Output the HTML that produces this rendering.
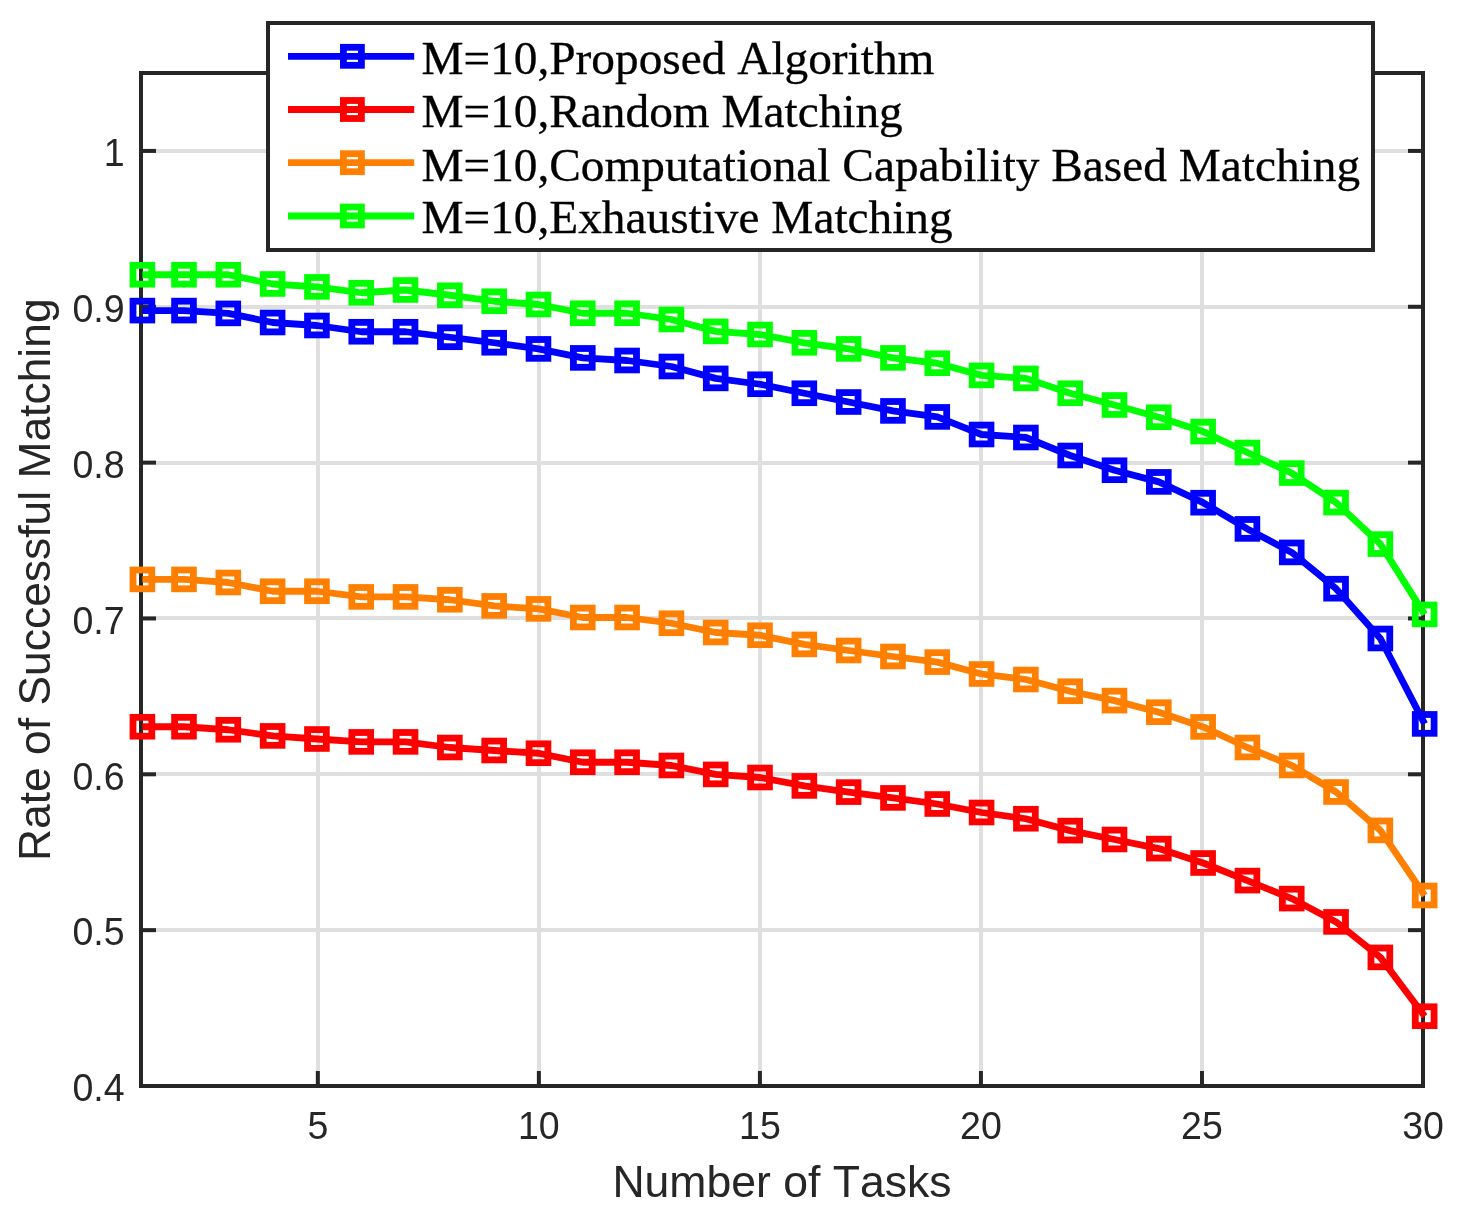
<!DOCTYPE html>
<html lang="en">
<head>
<meta charset="utf-8">
<title>Rate of Successful Matching vs Number of Tasks</title>
<style>
html,body{margin:0;padding:0;background:#fff;}
body{width:1460px;height:1224px;overflow:hidden;}
svg{display:block;}
text{font-kerning:none;}
.t{font-family:"Liberation Sans",Arial,Helvetica,sans-serif;fill:#262626;}
.l{font-family:"Liberation Serif","Times New Roman",Times,serif;fill:#000;stroke:#000;stroke-width:0.3px;}
</style>
</head>
<body>
<svg width="1460" height="1224" viewBox="0 0 1460 1224">
<rect x="0" y="0" width="1460" height="1224" fill="#ffffff"/>
<g stroke="#dfdfdf" stroke-width="4" fill="none" shape-rendering="crispEdges">
<line x1="317.83" y1="73.0" x2="317.83" y2="1086.0"/>
<line x1="538.86" y1="73.0" x2="538.86" y2="1086.0"/>
<line x1="759.90" y1="73.0" x2="759.90" y2="1086.0"/>
<line x1="980.93" y1="73.0" x2="980.93" y2="1086.0"/>
<line x1="1201.97" y1="73.0" x2="1201.97" y2="1086.0"/>
<line x1="141.0" y1="930.15" x2="1423.0" y2="930.15"/>
<line x1="141.0" y1="774.31" x2="1423.0" y2="774.31"/>
<line x1="141.0" y1="618.46" x2="1423.0" y2="618.46"/>
<line x1="141.0" y1="462.62" x2="1423.0" y2="462.62"/>
<line x1="141.0" y1="306.77" x2="1423.0" y2="306.77"/>
<line x1="141.0" y1="150.92" x2="1423.0" y2="150.92"/>
</g>
<g stroke="#262626" stroke-width="4" fill="none">
<rect x="141.0" y="73.0" width="1282.0" height="1013.0"/>
<line x1="317.83" y1="1086.0" x2="317.83" y2="1071.0"/>
<line x1="317.83" y1="73.0" x2="317.83" y2="88.0"/>
<line x1="538.86" y1="1086.0" x2="538.86" y2="1071.0"/>
<line x1="538.86" y1="73.0" x2="538.86" y2="88.0"/>
<line x1="759.90" y1="1086.0" x2="759.90" y2="1071.0"/>
<line x1="759.90" y1="73.0" x2="759.90" y2="88.0"/>
<line x1="980.93" y1="1086.0" x2="980.93" y2="1071.0"/>
<line x1="980.93" y1="73.0" x2="980.93" y2="88.0"/>
<line x1="1201.97" y1="1086.0" x2="1201.97" y2="1071.0"/>
<line x1="1201.97" y1="73.0" x2="1201.97" y2="88.0"/>
<line x1="141.0" y1="930.15" x2="156.0" y2="930.15"/>
<line x1="1423.0" y1="930.15" x2="1408.0" y2="930.15"/>
<line x1="141.0" y1="774.31" x2="156.0" y2="774.31"/>
<line x1="1423.0" y1="774.31" x2="1408.0" y2="774.31"/>
<line x1="141.0" y1="618.46" x2="156.0" y2="618.46"/>
<line x1="1423.0" y1="618.46" x2="1408.0" y2="618.46"/>
<line x1="141.0" y1="462.62" x2="156.0" y2="462.62"/>
<line x1="1423.0" y1="462.62" x2="1408.0" y2="462.62"/>
<line x1="141.0" y1="306.77" x2="156.0" y2="306.77"/>
<line x1="1423.0" y1="306.77" x2="1408.0" y2="306.77"/>
<line x1="141.0" y1="150.92" x2="156.0" y2="150.92"/>
<line x1="1423.0" y1="150.92" x2="1408.0" y2="150.92"/>
</g>
<g class="t" font-size="39.30" text-anchor="middle">
<text transform="translate(317.83 1139.0) scale(0.955 1)">5</text>
<text transform="translate(538.86 1139.0) scale(0.955 1)">10</text>
<text transform="translate(759.90 1139.0) scale(0.955 1)">15</text>
<text transform="translate(980.93 1139.0) scale(0.955 1)">20</text>
<text transform="translate(1201.97 1139.0) scale(0.955 1)">25</text>
<text transform="translate(1423.00 1139.0) scale(0.955 1)">30</text>
</g>
<g class="t" font-size="39.30" text-anchor="end">
<text transform="translate(124.6 1101.20) scale(0.955 1)">0.4</text>
<text transform="translate(124.6 945.35) scale(0.955 1)">0.5</text>
<text transform="translate(124.6 789.51) scale(0.955 1)">0.6</text>
<text transform="translate(124.6 633.66) scale(0.955 1)">0.7</text>
<text transform="translate(124.6 477.82) scale(0.955 1)">0.8</text>
<text transform="translate(124.6 321.97) scale(0.955 1)">0.9</text>
<text transform="translate(124.6 166.12) scale(0.955 1)">1</text>
</g>
<text class="t" font-size="44.55" text-anchor="middle" x="782" y="1196.5">Number of Tasks</text>
<text class="t" font-size="44.40" text-anchor="middle" transform="translate(50 579.7) rotate(-90)">Rate of Successful Matching</text>
<g stroke="#0000ff" fill="none">
<polyline stroke-width="6.8" stroke-linejoin="round" points="142.40,310.60 184.00,310.60 228.31,313.40 272.62,322.50 316.93,325.50 361.24,331.75 405.55,331.75 449.86,337.25 494.17,342.75 538.48,348.90 582.79,357.90 627.10,360.50 671.41,366.50 715.72,378.40 760.03,384.25 804.34,393.25 848.65,402.00 892.96,410.90 937.27,416.90 981.58,434.50 1025.89,437.50 1070.20,455.50 1114.51,470.25 1158.82,481.90 1203.13,502.70 1247.44,528.90 1291.75,552.40 1336.06,588.70 1380.37,638.50 1424.68,723.90"/>
<g stroke-width="6.8">
<rect x="133.00" y="301.20" width="18.8" height="18.8"/>
<rect x="174.60" y="301.20" width="18.8" height="18.8"/>
<rect x="218.91" y="304.00" width="18.8" height="18.8"/>
<rect x="263.22" y="313.10" width="18.8" height="18.8"/>
<rect x="307.53" y="316.10" width="18.8" height="18.8"/>
<rect x="351.84" y="322.35" width="18.8" height="18.8"/>
<rect x="396.15" y="322.35" width="18.8" height="18.8"/>
<rect x="440.46" y="327.85" width="18.8" height="18.8"/>
<rect x="484.77" y="333.35" width="18.8" height="18.8"/>
<rect x="529.08" y="339.50" width="18.8" height="18.8"/>
<rect x="573.39" y="348.50" width="18.8" height="18.8"/>
<rect x="617.70" y="351.10" width="18.8" height="18.8"/>
<rect x="662.01" y="357.10" width="18.8" height="18.8"/>
<rect x="706.32" y="369.00" width="18.8" height="18.8"/>
<rect x="750.63" y="374.85" width="18.8" height="18.8"/>
<rect x="794.94" y="383.85" width="18.8" height="18.8"/>
<rect x="839.25" y="392.60" width="18.8" height="18.8"/>
<rect x="883.56" y="401.50" width="18.8" height="18.8"/>
<rect x="927.87" y="407.50" width="18.8" height="18.8"/>
<rect x="972.18" y="425.10" width="18.8" height="18.8"/>
<rect x="1016.49" y="428.10" width="18.8" height="18.8"/>
<rect x="1060.80" y="446.10" width="18.8" height="18.8"/>
<rect x="1105.11" y="460.85" width="18.8" height="18.8"/>
<rect x="1149.42" y="472.50" width="18.8" height="18.8"/>
<rect x="1193.73" y="493.30" width="18.8" height="18.8"/>
<rect x="1238.04" y="519.50" width="18.8" height="18.8"/>
<rect x="1282.35" y="543.00" width="18.8" height="18.8"/>
<rect x="1326.66" y="579.30" width="18.8" height="18.8"/>
<rect x="1370.97" y="629.10" width="18.8" height="18.8"/>
<rect x="1415.28" y="714.50" width="18.8" height="18.8"/>
</g>
</g>
<g stroke="#ff0000" fill="none">
<polyline stroke-width="6.8" stroke-linejoin="round" points="142.40,726.75 184.00,726.75 228.31,729.75 272.62,735.90 316.93,739.00 361.24,741.90 405.55,741.90 449.86,747.50 494.17,750.50 538.48,753.25 582.79,762.25 627.10,762.25 671.41,765.50 715.72,774.40 760.03,777.50 804.34,785.90 848.65,792.10 892.96,797.90 937.27,804.00 981.58,812.50 1025.89,818.75 1070.20,830.60 1114.51,839.50 1158.82,848.60 1203.13,863.00 1247.44,880.60 1291.75,898.60 1336.06,921.90 1380.37,957.40 1424.68,1016.20"/>
<g stroke-width="6.8">
<rect x="133.00" y="717.35" width="18.8" height="18.8"/>
<rect x="174.60" y="717.35" width="18.8" height="18.8"/>
<rect x="218.91" y="720.35" width="18.8" height="18.8"/>
<rect x="263.22" y="726.50" width="18.8" height="18.8"/>
<rect x="307.53" y="729.60" width="18.8" height="18.8"/>
<rect x="351.84" y="732.50" width="18.8" height="18.8"/>
<rect x="396.15" y="732.50" width="18.8" height="18.8"/>
<rect x="440.46" y="738.10" width="18.8" height="18.8"/>
<rect x="484.77" y="741.10" width="18.8" height="18.8"/>
<rect x="529.08" y="743.85" width="18.8" height="18.8"/>
<rect x="573.39" y="752.85" width="18.8" height="18.8"/>
<rect x="617.70" y="752.85" width="18.8" height="18.8"/>
<rect x="662.01" y="756.10" width="18.8" height="18.8"/>
<rect x="706.32" y="765.00" width="18.8" height="18.8"/>
<rect x="750.63" y="768.10" width="18.8" height="18.8"/>
<rect x="794.94" y="776.50" width="18.8" height="18.8"/>
<rect x="839.25" y="782.70" width="18.8" height="18.8"/>
<rect x="883.56" y="788.50" width="18.8" height="18.8"/>
<rect x="927.87" y="794.60" width="18.8" height="18.8"/>
<rect x="972.18" y="803.10" width="18.8" height="18.8"/>
<rect x="1016.49" y="809.35" width="18.8" height="18.8"/>
<rect x="1060.80" y="821.20" width="18.8" height="18.8"/>
<rect x="1105.11" y="830.10" width="18.8" height="18.8"/>
<rect x="1149.42" y="839.20" width="18.8" height="18.8"/>
<rect x="1193.73" y="853.60" width="18.8" height="18.8"/>
<rect x="1238.04" y="871.20" width="18.8" height="18.8"/>
<rect x="1282.35" y="889.20" width="18.8" height="18.8"/>
<rect x="1326.66" y="912.50" width="18.8" height="18.8"/>
<rect x="1370.97" y="948.00" width="18.8" height="18.8"/>
<rect x="1415.28" y="1006.80" width="18.8" height="18.8"/>
</g>
</g>
<g stroke="#ff7f00" fill="none">
<polyline stroke-width="6.8" stroke-linejoin="round" points="142.40,579.40 184.00,579.40 228.31,582.50 272.62,591.25 316.93,591.25 361.24,596.90 405.55,596.90 449.86,599.75 494.17,605.90 538.48,608.90 582.79,617.50 627.10,617.50 671.41,623.25 715.72,632.50 760.03,635.25 804.34,644.40 848.65,650.50 892.96,656.50 937.27,662.10 981.58,674.00 1025.89,679.50 1070.20,691.25 1114.51,700.60 1158.82,712.20 1203.13,726.90 1247.44,747.50 1291.75,765.50 1336.06,792.00 1380.37,830.40 1424.68,895.50"/>
<g stroke-width="6.8">
<rect x="133.00" y="570.00" width="18.8" height="18.8"/>
<rect x="174.60" y="570.00" width="18.8" height="18.8"/>
<rect x="218.91" y="573.10" width="18.8" height="18.8"/>
<rect x="263.22" y="581.85" width="18.8" height="18.8"/>
<rect x="307.53" y="581.85" width="18.8" height="18.8"/>
<rect x="351.84" y="587.50" width="18.8" height="18.8"/>
<rect x="396.15" y="587.50" width="18.8" height="18.8"/>
<rect x="440.46" y="590.35" width="18.8" height="18.8"/>
<rect x="484.77" y="596.50" width="18.8" height="18.8"/>
<rect x="529.08" y="599.50" width="18.8" height="18.8"/>
<rect x="573.39" y="608.10" width="18.8" height="18.8"/>
<rect x="617.70" y="608.10" width="18.8" height="18.8"/>
<rect x="662.01" y="613.85" width="18.8" height="18.8"/>
<rect x="706.32" y="623.10" width="18.8" height="18.8"/>
<rect x="750.63" y="625.85" width="18.8" height="18.8"/>
<rect x="794.94" y="635.00" width="18.8" height="18.8"/>
<rect x="839.25" y="641.10" width="18.8" height="18.8"/>
<rect x="883.56" y="647.10" width="18.8" height="18.8"/>
<rect x="927.87" y="652.70" width="18.8" height="18.8"/>
<rect x="972.18" y="664.60" width="18.8" height="18.8"/>
<rect x="1016.49" y="670.10" width="18.8" height="18.8"/>
<rect x="1060.80" y="681.85" width="18.8" height="18.8"/>
<rect x="1105.11" y="691.20" width="18.8" height="18.8"/>
<rect x="1149.42" y="702.80" width="18.8" height="18.8"/>
<rect x="1193.73" y="717.50" width="18.8" height="18.8"/>
<rect x="1238.04" y="738.10" width="18.8" height="18.8"/>
<rect x="1282.35" y="756.10" width="18.8" height="18.8"/>
<rect x="1326.66" y="782.60" width="18.8" height="18.8"/>
<rect x="1370.97" y="821.00" width="18.8" height="18.8"/>
<rect x="1415.28" y="886.10" width="18.8" height="18.8"/>
</g>
</g>
<g stroke="#00ff00" fill="none">
<polyline stroke-width="6.8" stroke-linejoin="round" points="142.40,274.75 184.00,274.75 228.31,274.75 272.62,284.00 316.93,286.90 361.24,292.75 405.55,290.00 449.86,295.25 494.17,301.25 538.48,304.50 582.79,313.25 627.10,313.25 671.41,319.50 715.72,331.40 760.03,334.50 804.34,342.80 848.65,348.90 892.96,357.90 937.27,363.25 981.58,375.40 1025.89,378.40 1070.20,393.25 1114.51,405.00 1158.82,417.25 1203.13,431.60 1247.44,452.50 1291.75,473.10 1336.06,502.60 1380.37,544.10 1424.68,614.40"/>
<g stroke-width="6.8">
<rect x="133.00" y="265.35" width="18.8" height="18.8"/>
<rect x="174.60" y="265.35" width="18.8" height="18.8"/>
<rect x="218.91" y="265.35" width="18.8" height="18.8"/>
<rect x="263.22" y="274.60" width="18.8" height="18.8"/>
<rect x="307.53" y="277.50" width="18.8" height="18.8"/>
<rect x="351.84" y="283.35" width="18.8" height="18.8"/>
<rect x="396.15" y="280.60" width="18.8" height="18.8"/>
<rect x="440.46" y="285.85" width="18.8" height="18.8"/>
<rect x="484.77" y="291.85" width="18.8" height="18.8"/>
<rect x="529.08" y="295.10" width="18.8" height="18.8"/>
<rect x="573.39" y="303.85" width="18.8" height="18.8"/>
<rect x="617.70" y="303.85" width="18.8" height="18.8"/>
<rect x="662.01" y="310.10" width="18.8" height="18.8"/>
<rect x="706.32" y="322.00" width="18.8" height="18.8"/>
<rect x="750.63" y="325.10" width="18.8" height="18.8"/>
<rect x="794.94" y="333.40" width="18.8" height="18.8"/>
<rect x="839.25" y="339.50" width="18.8" height="18.8"/>
<rect x="883.56" y="348.50" width="18.8" height="18.8"/>
<rect x="927.87" y="353.85" width="18.8" height="18.8"/>
<rect x="972.18" y="366.00" width="18.8" height="18.8"/>
<rect x="1016.49" y="369.00" width="18.8" height="18.8"/>
<rect x="1060.80" y="383.85" width="18.8" height="18.8"/>
<rect x="1105.11" y="395.60" width="18.8" height="18.8"/>
<rect x="1149.42" y="407.85" width="18.8" height="18.8"/>
<rect x="1193.73" y="422.20" width="18.8" height="18.8"/>
<rect x="1238.04" y="443.10" width="18.8" height="18.8"/>
<rect x="1282.35" y="463.70" width="18.8" height="18.8"/>
<rect x="1326.66" y="493.20" width="18.8" height="18.8"/>
<rect x="1370.97" y="534.70" width="18.8" height="18.8"/>
<rect x="1415.28" y="605.00" width="18.8" height="18.8"/>
</g>
</g>
<rect x="268" y="23" width="1105" height="227" fill="#ffffff" stroke="#262626" stroke-width="4"/>
<g stroke="#0000ff" fill="none"><line x1="288" y1="56.3" x2="414.2" y2="56.3" stroke-width="6.8"/><rect x="343.4" y="47.3" width="18.0" height="18.0" stroke-width="6.8"/></g>
<text class="l" font-size="47.32" x="421.4" y="74.1">M=10,Proposed Algorithm</text>
<g stroke="#ff0000" fill="none"><line x1="288" y1="109.5" x2="414.2" y2="109.5" stroke-width="6.8"/><rect x="343.4" y="100.5" width="18.0" height="18.0" stroke-width="6.8"/></g>
<text class="l" font-size="47.32" x="421.4" y="127.4">M=10,Random Matching</text>
<g stroke="#ff7f00" fill="none"><line x1="288" y1="162.7" x2="414.2" y2="162.7" stroke-width="6.8"/><rect x="343.4" y="153.7" width="18.0" height="18.0" stroke-width="6.8"/></g>
<text class="l" font-size="47.32" x="421.4" y="180.5">M=10,Computational Capability Based Matching</text>
<g stroke="#00ff00" fill="none"><line x1="288" y1="216.0" x2="414.2" y2="216.0" stroke-width="6.8"/><rect x="343.4" y="207.0" width="18.0" height="18.0" stroke-width="6.8"/></g>
<text class="l" font-size="47.32" x="421.4" y="233.4">M=10,Exhaustive Matching</text>
</svg>
</body>
</html>
